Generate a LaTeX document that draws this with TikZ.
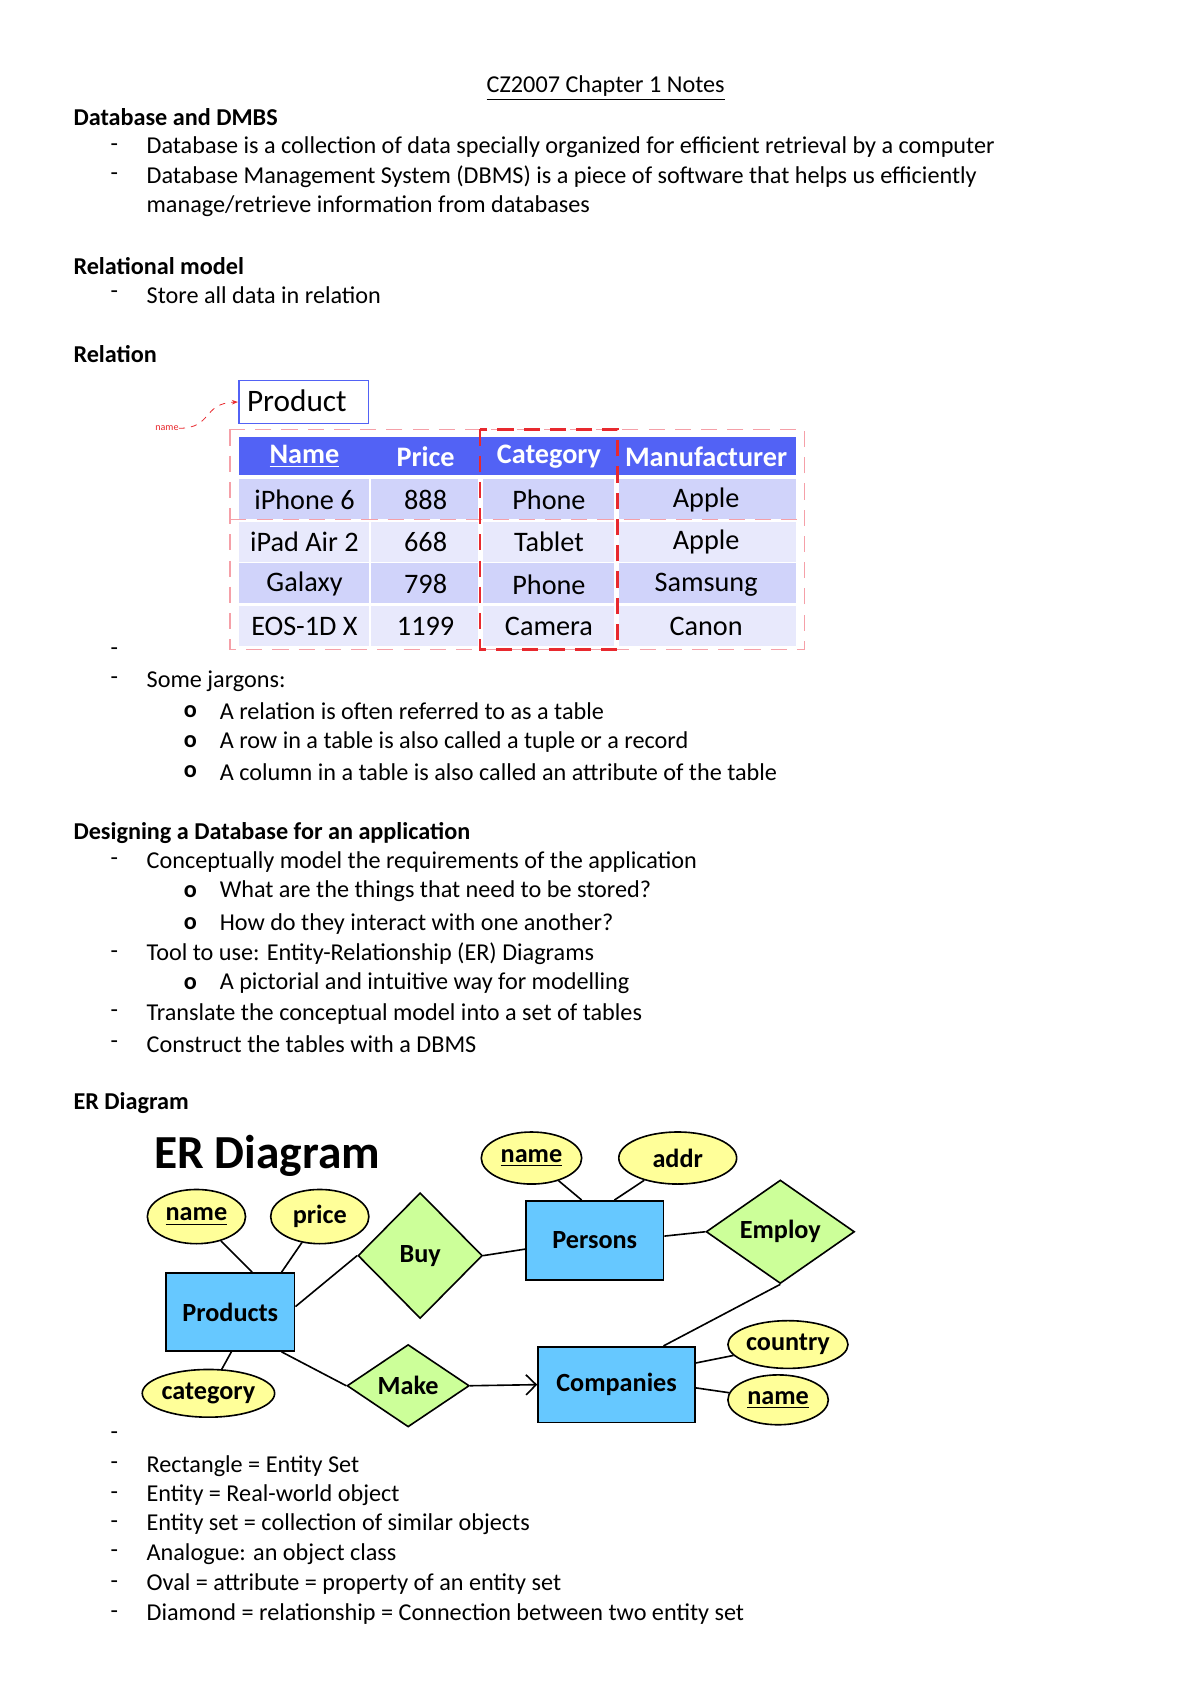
\documentclass[tikz,border=0pt]{standalone}
\usepackage{fontspec}
\setmainfont{Carlito}
\usetikzlibrary{shapes.geometric,arrows.meta}
\definecolor{hdr}{HTML}{5262F5}
\definecolor{rowa}{HTML}{D0D3FA}
\definecolor{rowb}{HTML}{E8E9FC}
\definecolor{pinkd}{HTML}{F5A0A8}
\definecolor{redd}{HTML}{E8292E}
\definecolor{ell}{HTML}{FFFF99}
\definecolor{ent}{HTML}{66C8FF}
\definecolor{rel}{HTML}{CCFF99}
\begin{document}
\begin{tikzpicture}[x=0.541pt,y=-0.5375pt,
 txt/.style={anchor=west,inner sep=0,font=\fontsize{12}{13}\selectfont},
 hd/.style={txt,font=\fontsize{12}{13}\selectfont\bfseries},
 cell/.style={inner sep=0,font=\fontsize{14}{16}\selectfont},
 hcell/.style={inner sep=0,text=white,font=\fontsize{14}{16}\selectfont\bfseries},
 attr/.style={ellipse,draw=black,thick,fill=ell,inner sep=0,font=\fontsize{13}{15}\selectfont\bfseries},
 ent/.style={rectangle,draw=black,thick,fill=ent,inner sep=0,font=\fontsize{13}{15}\selectfont\bfseries},
 relsh/.style={diamond,draw=black,thick,fill=rel,inner sep=0,font=\fontsize{13}{15}\selectfont\bfseries},
 conn/.style={draw=black,thick}]
\useasboundingbox (0,0) rectangle (1100,1566);
\node[inner sep=0,font=\fontsize{12}{13}\selectfont] (title) at (555,81) {\underline{CZ2007 Chapter 1 Notes}};
\node[hd] (h1) at (67,108) {Database and DMBS};
\node[txt] (d1) at (101,136) {-};
\node[txt] (t1) at (134,136) {Database is a collection of data specially organized for efficient retrieval by a computer};
\node[txt] (d2) at (101,163) {-};
\node[txt] (t2) at (134,163) {Database Management System (DBMS) is a piece of software that helps us efficiently};
\node[txt] (t3) at (134,190) {manage/retrieve information from databases};
\node[hd] (h2) at (67,245) {Relational model};
\node[txt] (d3) at (101,272) {-};
\node[txt] (t4) at (134,272) {Store all data in relation};
\node[hd] (h3) at (67,327) {Relation};
% table
\node[draw=hdr,thick,minimum width=119*0.541pt,minimum height=40*0.5375pt,anchor=north west,inner sep=0] (pbox) at (218,350) {};
\node[anchor=west,inner sep=0,font=\fontsize{15.5}{17}\selectfont] (ptext) at (226,370) {Product};
\node[inner sep=0,text=redd,font=\fontsize{5}{6}\selectfont] (nm) at (153,395) {name};
\draw[redd,dashed,-{Stealth[length=3pt]}] (nm.east) .. controls (195,395) and (185,372) .. (pbox.west);
\fill[hdr] (219,403) rectangle (729,438);
\foreach \y/\c in {442/rowa,481/rowb,519/rowa,559/rowb}{
 \fill[\c] (219,\y) rectangle (338,\y+37);
 \fill[\c] (340,\y) rectangle (438,\y+37);
 \fill[\c] (443,\y) rectangle (563,\y+37);
 \fill[\c] (567,\y) rectangle (729,\y+37);}
\draw[pinkd,thick,dash pattern=on 8pt off 5pt] (211,396) rectangle (737,599);
\draw[pinkd,thick,dash pattern=on 8pt off 5pt] (211,479) -- (737,479);
\draw[redd,very thick,dash pattern=on 8pt off 5pt] (440,396) rectangle (566,599);
\node[hcell] (cn) at (279,421) {\underline{Name}};
\node[hcell] (cp) at (390,421) {Price};
\node[hcell] (cc) at (503,421) {Category};
\node[hcell] (cm) at (647,421) {Manufacturer};
\foreach \y/\a/\b/\cc/\d [count=\i] in {461/iPhone 6/888/Phone/Apple,500/iPad Air 2/668/Tablet/Apple,539/Galaxy/798/Phone/Samsung,578/EOS-1D X/1199/Camera/Canon}{
 \node[cell] (ra\i) at (279,\y) {\a};
 \node[cell] (rb\i) at (390,\y) {\b};
 \node[cell] (rc\i) at (503,\y) {\cc};
 \node[cell] (rd\i) at (647,\y) {\d};}
\node[txt] (d4) at (101,601) {-};
\node[txt] (d5) at (101,628) {-};
\node[txt] (t5) at (134,628) {Some jargons:};
\foreach \y/\s [count=\i] in {656/A relation is often referred to as a table,684/A row in a table is also called a tuple or a record,712/A column in a table is also called an attribute of the table}{
 \node[txt,font=\fontsize{12}{13}\selectfont\bfseries] (o\i) at (168,\y) {o};
 \node[txt] (s\i) at (201,\y) {\s};}
\node[hd] (h4) at (67,768) {Designing a Database for an application};
\node[txt] (d6) at (101,795) {-};
\node[txt] (t6) at (134,795) {Conceptually model the requirements of the application};
\node[txt,font=\fontsize{12}{13}\selectfont\bfseries] (o4) at (168,822) {o};
\node[txt] (s4) at (201,822) {What are the things that need to be stored?};
\node[txt,font=\fontsize{12}{13}\selectfont\bfseries] (o5) at (168,852) {o};
\node[txt] (s5) at (201,852) {How do they interact with one another?};
\node[txt] (d7) at (101,880) {-};
\node[txt] (t7) at (134,880) {Tool to use: Entity-Relationship (ER) Diagrams};
\node[txt,font=\fontsize{12}{13}\selectfont\bfseries] (o6) at (168,907) {o};
\node[txt] (s6) at (201,907) {A pictorial and intuitive way for modelling};
\node[txt] (d8) at (101,935) {-};
\node[txt] (t8) at (134,935) {Translate the conceptual model into a set of tables};
\node[txt] (d9) at (101,963) {-};
\node[txt] (t9) at (134,963) {Construct the tables with a DBMS};
\node[hd] (h5) at (67,1017) {ER Diagram};
% ER diagram
\node[anchor=west,inner sep=0,font=\fontsize{23.5}{26}\selectfont\bfseries] (ert) at (141,1066) {ER Diagram};
\node[attr,minimum width=90*0.541pt,minimum height=50*0.5375pt] (pn) at (180,1122) {\underline{name}};
\node[attr,minimum width=90*0.541pt,minimum height=50*0.5375pt] (pp) at (293,1122) {price};
\node[ent,minimum width=118*0.541pt,minimum height=72*0.5375pt] (prod) at (211,1210) {Products};
\node[attr,minimum width=114*0.541pt,minimum height=44*0.5375pt] (pc) at (191,1285) {category};
\node[relsh,minimum width=114*0.541pt,minimum height=116*0.5375pt] (buy) at (385,1158) {Buy};
\node[ent,minimum width=126*0.541pt,minimum height=73*0.5375pt] (pers) at (545,1144) {Persons};
\node[attr,minimum width=92*0.541pt,minimum height=48*0.5375pt] (qn) at (487,1068) {\underline{name}};
\node[attr,minimum width=108*0.541pt,minimum height=48*0.5375pt] (qa) at (621,1068) {addr};
\node[relsh,minimum width=136*0.541pt,minimum height=80*0.5375pt] (emp) at (715,1136) {Employ};
\node[relsh,minimum width=112*0.541pt,minimum height=76*0.5375pt] (make) at (374,1278) {Make};
\node[ent,minimum width=144*0.541pt,minimum height=70*0.5375pt] (comp) at (565,1277) {Companies};
\node[attr,minimum width=110*0.541pt,minimum height=44*0.5375pt] (cco) at (722,1240) {country};
\node[attr,minimum width=92*0.541pt,minimum height=46*0.5375pt] (cnm) at (713,1291) {\underline{name}};
\draw[conn] (pn) -- ([xshift=20*0.541pt]prod.north);
\draw[conn] (pp) -- ([xshift=47*0.541pt]prod.north);
\draw[conn] ([xshift=1*0.541pt]prod.south) -- (pc);
\draw[conn] ([yshift=5*0.5375pt]prod.east) -- (buy.west);
\draw[conn] (buy.east) -- ([yshift=-8*0.5375pt]pers.west);
\draw[conn] (qn) -- ([xshift=-12*0.541pt]pers.north);
\draw[conn] (qa) -- ([xshift=18*0.541pt]pers.north);
\draw[conn] ([yshift=4*0.5375pt]pers.east) -- (emp.west);
\draw[conn] (emp.south) -- ([xshift=43*0.541pt]comp.north);
\draw[conn] ([xshift=47*0.541pt]prod.south) -- (make.west);
\draw[conn,-{Straight Barb[length=5pt]}] (make.east) -- (comp.west);
\draw[conn] ([yshift=20*0.5375pt]comp.east) -- (cco);
\draw[conn] ([yshift=-3*0.5375pt]comp.east) -- (cnm);
\node[txt] (d10) at (101,1324) {-};
\foreach \y/\s [count=\i] in {1352/Rectangle = Entity Set,1379/Entity = Real-world object,1406/Entity set = collection of similar objects,1433/Analogue: an object class,1461/Oval = attribute = property of an entity set,1489/Diamond = relationship = Connection between two entity set}{
 \node[txt] (e\i) at (101,\y) {-};
 \node[txt] (f\i) at (134,\y) {\s};}
\end{tikzpicture}
\end{document}
